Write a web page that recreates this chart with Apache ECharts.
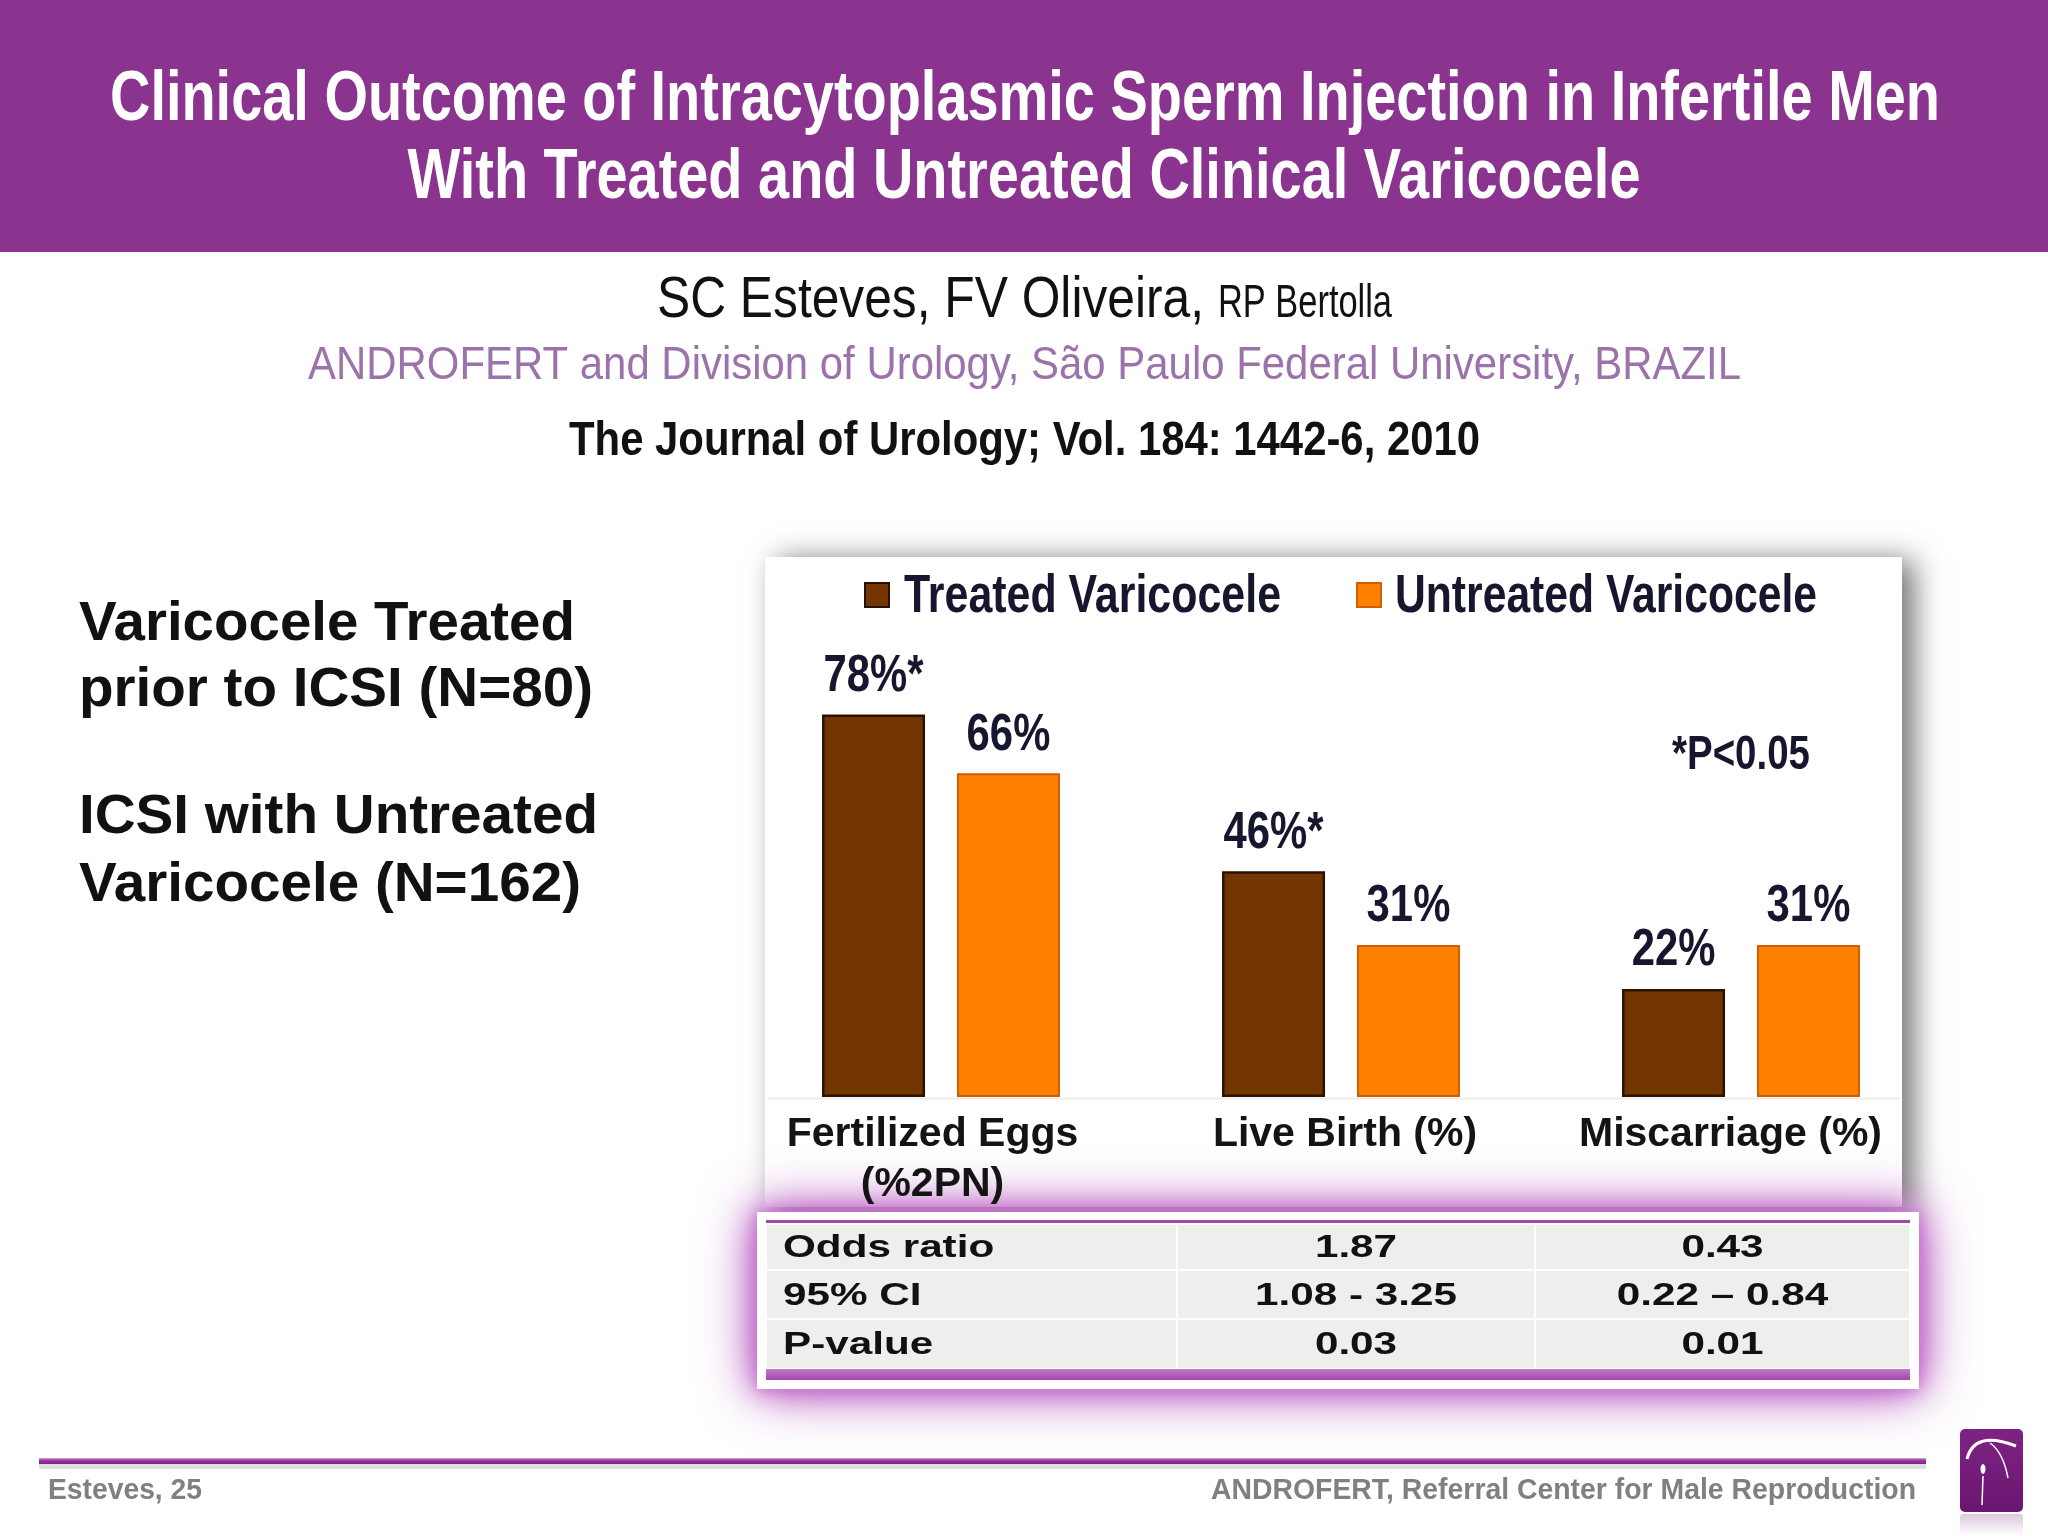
<!DOCTYPE html>
<html>
<head>
<meta charset="utf-8">
<script src="https://cdn.jsdelivr.net/npm/echarts@6.0.0/dist/echarts.min.js"></script>
<style>
html,body{margin:0;padding:0;background:#fff;}
#chart{width:2048px;height:1536px;}
</style>
</head>
<body>
<div id="chart"></div>
<script>
// ---------------- data ----------------
const titleLines = ['Clinical Outcome of Intracytoplasmic Sperm Injection in Infertile Men', 'With Treated and Untreated Clinical Varicocele'];
const authorsMain = 'SC Esteves, FV Oliveira,';
const authorsLast = 'RP Bertolla';
const affiliation = 'ANDROFERT and Division of Urology, São Paulo Federal University, BRAZIL';
const journal = 'The Journal of Urology; Vol. 184: 1442-6, 2010';
const groupNotes = ['Varicocele Treated', 'prior to ICSI (N=80)', 'ICSI with Untreated', 'Varicocele (N=162)'];

const categories = ['Fertilized Eggs\n(%2PN)', 'Live Birth (%)', 'Miscarriage (%)'];
const seriesNames = ['Treated Varicocele', 'Untreated Varicocele'];
const treatedValues = [78, 46, 22];
const untreatedValues = [66, 31, 31];
const treatedMarks = ['*', '*', ''];
const untreatedMarks = ['', '', ''];
const significanceNote = '*P<0.05';

const tableRowLabels = ['Odds ratio', '95% CI', 'P-value'];
const liveBirthStats = ['1.87', '1.08 - 3.25', '0.03'];
const miscarriageStats = ['0.43', '0.22 – 0.84', '0.01'];

const footerLeft = 'Esteves, 25';
const footerRight = 'ANDROFERT, Referral Center for Male Reproduction';

// ---------------- helpers ----------------
const SANS = '"Liberation Sans", Arial, sans-serif';
const NAVY = '#16162e';
const mctx = document.createElement('canvas').getContext('2d');
function measure(text, font) { mctx.font = font; return mctx.measureText(text).width; }
function txt(o) {
  const font = (o.weight || 'normal') + ' ' + o.size + 'px ' + (o.family || SANS);
  const w = measure(o.text, font);
  const sx = o.width ? o.width / w : (o.scaleX || 1);
  return {
    type: 'text', x: o.x, y: o.baseline - 0.31 * o.size, scaleX: sx, z: o.z || 20,
    style: {
      text: o.text, x: 0, y: 0, font: font, fill: o.fill || '#111',
      align: o.align || 'left', textAlign: o.align || 'left',
      verticalAlign: 'middle', textVerticalAlign: 'middle'
    }
  };
}

const graphics = [];
// header
graphics.push({ type: 'rect', z: 1, shape: { x: 0, y: 0, width: 2048, height: 252 }, style: { fill: '#8a338f' } });
graphics.push(txt({ text: titleLines[0], weight: 'bold', size: 70, x: 1025, align: 'center', baseline: 122, width: 1830, fill: '#ffffff' }));
graphics.push(txt({ text: titleLines[1], weight: 'bold', size: 70, x: 1024, align: 'center', baseline: 200, width: 1233, fill: '#ffffff' }));
// authors etc
graphics.push(txt({ text: authorsMain, size: 57, x: 657, baseline: 319, width: 547, fill: '#111' }));
graphics.push(txt({ text: authorsLast, size: 46, x: 1218, baseline: 319, width: 174, fill: '#111' }));
graphics.push(txt({ text: affiliation, size: 47, x: 308, baseline: 381, width: 1433, fill: '#9c72aa' }));
graphics.push(txt({ text: journal, weight: 'bold', size: 49, x: 569, baseline: 457, width: 911, fill: '#111' }));
// left notes
const noteBaselines = [642, 708, 835, 903];
const noteWidths = [496, 514, 519, 502];
groupNotes.forEach((t, i) => graphics.push(txt({ text: t, weight: 'bold', size: 56, x: 79, baseline: noteBaselines[i], width: noteWidths[i], fill: '#111' })));

// chart panel
graphics.push({ type: 'rect', z: 1, shape: { x: 765, y: 557, width: 1137, height: 650 },
  style: { fill: '#ffffff', shadowBlur: 28, shadowOffsetX: 12, shadowOffsetY: 3, shadowColor: 'rgba(0,0,0,0.55)' } });
graphics.push({ type: 'line', z: 2, shape: { x1: 767, y1: 1098.5, x2: 1900, y2: 1098.5 }, style: { stroke: '#ececec', lineWidth: 2 } });
graphics.push(txt({ text: significanceNote, weight: 'bold', size: 49, x: 1741, align: 'center', baseline: 771, width: 138, fill: NAVY }));
// legend texts (icons come from the legend component)
graphics.push(txt({ text: seriesNames[0], weight: 'bold', size: 53, x: 904, baseline: 614, width: 377, fill: NAVY }));
graphics.push(txt({ text: seriesNames[1], weight: 'bold', size: 53, x: 1395, baseline: 614, width: 422, fill: NAVY }));

// table glow + box
graphics.push({ type: 'rect', z: 3, shape: { x: 757, y: 1212, width: 1162, height: 177, r: 6 },
  style: { fill: '#ffffff', shadowBlur: 56, shadowColor: 'rgba(176,70,186,1)' } });
graphics.push({ type: 'rect', z: 3, shape: { x: 757, y: 1212, width: 1162, height: 177, r: 6 },
  style: { fill: '#ffffff', shadowBlur: 30, shadowColor: 'rgba(185,90,195,1)' } });
graphics.push({ type: 'rect', z: 3, shape: { x: 757, y: 1212, width: 1162, height: 177, r: 6 },
  style: { fill: '#ffffff', shadowBlur: 12, shadowColor: 'rgba(200,120,208,0.8)' } });
graphics.push({ type: 'rect', z: 4, shape: { x: 757, y: 1212, width: 1162, height: 177 }, style: { fill: '#ffffff' } });
const colX = [766, 1177, 1535, 1910];
const rowY = [1224, 1270, 1319, 1369];
graphics.push({ type: 'rect', z: 5, shape: { x: colX[0], y: 1220, width: colX[3] - colX[0], height: 3 }, style: { fill: '#a04aa8' } });
graphics.push({ type: 'rect', z: 5, shape: { x: colX[0], y: rowY[3], width: colX[3] - colX[0], height: 11 },
  style: { fill: { type: 'linear', x: 0, y: 0, x2: 0, y2: 1, colorStops: [{ offset: 0, color: '#c27ac8' }, { offset: 1, color: '#a448ad' }] } } });
const tableCols = [tableRowLabels, liveBirthStats, miscarriageStats];
for (let r = 0; r < 3; r++) {
  for (let c = 0; c < 3; c++) {
    graphics.push({ type: 'rect', z: 5, shape: { x: colX[c] + 1, y: rowY[r] + 1, width: colX[c + 1] - colX[c] - 2, height: rowY[r + 1] - rowY[r] - 2 }, style: { fill: '#edefed' } });
    const base = (rowY[r] + rowY[r + 1]) / 2 + 11.5;
    if (c === 0) {
      graphics.push(txt({ text: tableCols[c][r], weight: 'bold', size: 32, x: 783, baseline: base, scaleX: 1.32, fill: '#111' }));
    } else {
      graphics.push(txt({ text: tableCols[c][r], weight: 'bold', size: 32, x: (colX[c] + colX[c + 1]) / 2, align: 'center', baseline: base, scaleX: 1.32, fill: '#111' }));
    }
  }
}

// footer
graphics.push({ type: 'rect', z: 1, shape: { x: 39, y: 1464, width: 1887, height: 5 }, style: { fill: 'rgba(0,0,0,0.12)', shadowBlur: 6, shadowColor: 'rgba(0,0,0,0.2)' } });
graphics.push({ type: 'rect', z: 2, shape: { x: 39, y: 1458, width: 1887, height: 6 },
  style: { fill: { type: 'linear', x: 0, y: 0, x2: 0, y2: 1, colorStops: [{ offset: 0, color: '#e2a6e4' }, { offset: 0.35, color: '#9a3aa0' }, { offset: 1, color: '#7d2483' }] } } });
graphics.push(txt({ text: footerLeft, weight: 'bold', size: 29, x: 48, baseline: 1500, width: 154, fill: '#808080' }));
graphics.push(txt({ text: footerRight, weight: 'bold', size: 29, x: 1916, align: 'right', baseline: 1500, width: 705, fill: '#808080' }));
// logo
graphics.push({ type: 'rect', z: 2, shape: { x: 1960, y: 1429, width: 63, height: 83, r: 5 },
  style: { fill: { type: 'linear', x: 0, y: 0, x2: 0, y2: 1, colorStops: [{ offset: 0, color: '#7e2384' }, { offset: 1, color: '#6a1670' }] } } });
graphics.push({ type: 'rect', z: 2, shape: { x: 1960, y: 1514, width: 63, height: 22, r: 3 },
  style: { fill: { type: 'linear', x: 0, y: 0, x2: 0, y2: 1, colorStops: [{ offset: 0, color: 'rgba(120,40,130,0.25)' }, { offset: 1, color: 'rgba(120,40,130,0)' }] } } });
graphics.push({ type: 'bezierCurve', z: 3, shape: { x1: 1967, y1: 1459, cpx1: 1974, cpy1: 1430, x2: 2016, y2: 1446 }, style: { stroke: '#ffffff', lineWidth: 3, fill: null } });
graphics.push({ type: 'bezierCurve', z: 3, shape: { x1: 1990, y1: 1443, cpx1: 2003, cpy1: 1452, x2: 2008, y2: 1478 }, style: { stroke: '#ffffff', lineWidth: 1.5, fill: null } });
graphics.push({ type: 'ellipse', z: 3, shape: { cx: 1983, cy: 1469, rx: 2.5, ry: 5 }, style: { fill: '#ffffff' } });
graphics.push({ type: 'line', z: 3, shape: { x1: 1983, y1: 1476, x2: 1982, y2: 1505 }, style: { stroke: '#ffffff', lineWidth: 1.5 } });

const legendBase = { z: 10, top: 582, padding: 0, itemWidth: 24, itemHeight: 24, icon: 'rect', selectedMode: false, formatter: function () { return ''; }, textStyle: { fontSize: 1 } };

// small per-label nudges so the category labels sit where the slide has them
const labelPads = [[0, 17, 0, 0], [0, 0, 0, 8], [0, 21, 0, 0]];
const axisData = categories.map((c, i) => ({ value: c, textStyle: { padding: labelPads[i] } }));

const chart = echarts.init(document.getElementById('chart'), null, { renderer: 'canvas' });
chart.setOption({
  animation: false,
  backgroundColor: '#ffffff',
  graphic: { elements: graphics },
  legend: [
    Object.assign({}, legendBase, { data: [seriesNames[0]], left: 864 }),
    Object.assign({}, legendBase, { data: [seriesNames[1]], left: 1356 })
  ],
  grid: { left: 741, right: 107, top: 606.5, bottom: 439 },
  xAxis: {
    type: 'category', data: axisData, z: 10,
    axisLine: { show: false }, axisTick: { show: false },
    axisLabel: { interval: 0, margin: 13, fontFamily: SANS, fontWeight: 'bold', fontSize: 41, lineHeight: 50, color: '#141414' }
  },
  yAxis: { type: 'value', min: 0, max: 100, show: false },
  series: [
    {
      name: seriesNames[0], type: 'bar', z: 10, data: treatedValues, barWidth: 103, barGap: '31%',
      itemStyle: { color: '#743600', borderColor: '#2a1200', borderWidth: 2.5 }
    },
    {
      name: seriesNames[1], type: 'bar', z: 10, data: untreatedValues, barWidth: 103,
      itemStyle: { color: '#ff8000', borderColor: '#cf5e00', borderWidth: 2 }
    }
  ]
});

// value labels: placed from the library's own bar layout, drawn in a condensed style
const labelGraphics = [];
const marks = [treatedMarks, untreatedMarks];
const values = [treatedValues, untreatedValues];
[0, 1].forEach(function (s) {
  const data = chart.getModel().getSeriesByIndex(s).getData();
  for (let i = 0; i < data.count(); i++) {
    const l = data.getItemLayout(i);
    const top = Math.min(l.y, l.y + l.height);
    labelGraphics.push(txt({ text: values[s][i] + '%' + marks[s][i], weight: 'bold', size: 51, x: l.x + l.width / 2, align: 'center', baseline: top - 22, scaleX: 0.82, fill: NAVY }));
  }
});
chart.setOption({ graphic: { elements: graphics.concat(labelGraphics) } }, { replaceMerge: ['graphic'] });
</script>
</body>
</html>
